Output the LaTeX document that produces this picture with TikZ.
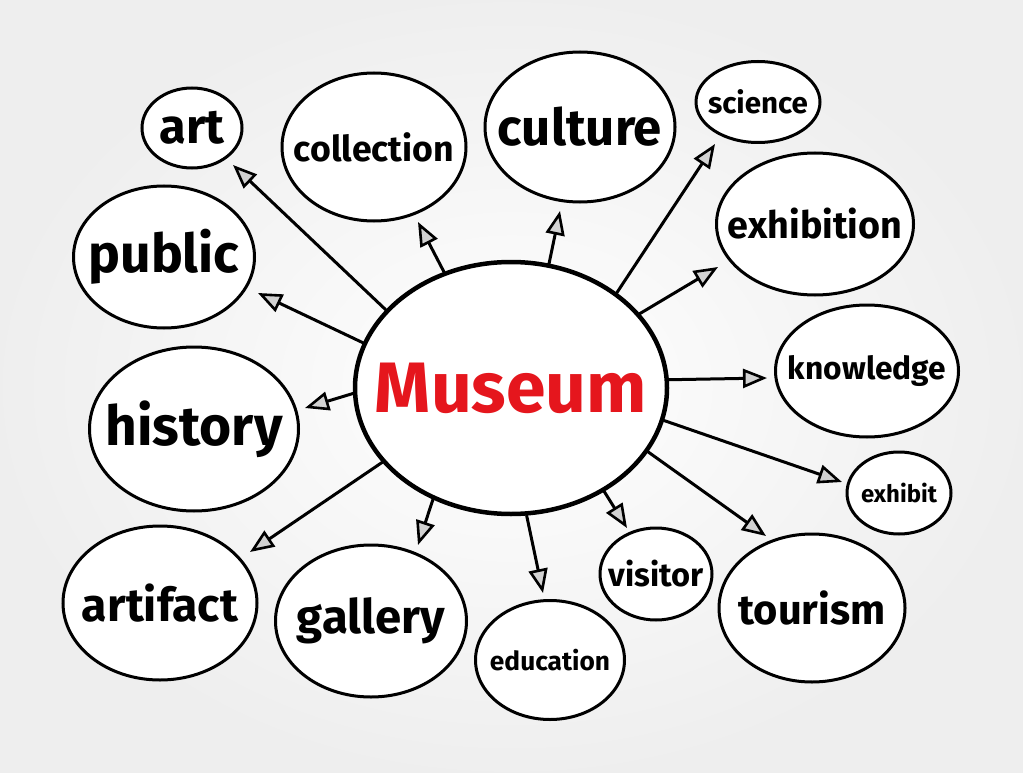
\documentclass[tikz,border=0pt]{standalone}
\usepackage{graphicx}
\usepackage{fontspec}
\setmainfont{Fira Sans}
\usetikzlibrary{shapes.geometric,arrows.meta}
\definecolor{musred}{HTML}{E5161D}
\tikzset{
  bub/.style={ellipse, draw=black, line width=3pt, fill=white, inner sep=0pt},
  arr/.style={line width=3pt, line cap=round,
    -{Triangle[length=24pt,width=19pt,fill=gray!35,line width=2.6pt]}},
}
\newcommand{\wtxt}[2]{\resizebox{#1pt}{!}{\bfseries #2}}
\begin{document}
\begin{tikzpicture}[x=1pt,y=-1pt]
\useasboundingbox (0,0) rectangle (1023,773);
\shade[inner color=white, outer color=gray!13] (0,0) rectangle (1023,773);

\node[bub, line width=4.5pt, minimum width=312pt, minimum height=252pt,
  label={[text=musred]center:\wtxt{272}{Museum}}] (M) at (511,388) {};

\node[bub, minimum width=100pt, minimum height=80pt, label={center:\wtxt{65}{art}}] (art) at (192,128) {};
\node[bub, minimum width=184pt, minimum height=148pt, label={center:\wtxt{160}{collection}}] (collection) at (374,147) {};
\node[bub, minimum width=190pt, minimum height=150pt, label={center:\wtxt{164}{culture}}] (culture) at (580,127) {};
\node[bub, minimum width=124pt, minimum height=81pt, label={center:\wtxt{100}{science}}] (science) at (758,102) {};
\node[bub, minimum width=197pt, minimum height=142pt, label={center:\wtxt{174}{exhibition}}] (exhibition) at (815,224) {};
\node[bub, minimum width=181pt, minimum height=142pt, label={center:\wtxt{151}{public}}] (public) at (164,257) {};
\node[bub, minimum width=183pt, minimum height=132pt, label={center:\wtxt{158}{knowledge}}] (knowledge) at (867,371) {};
\node[bub, minimum width=209pt, minimum height=164pt, label={center:\wtxt{177}{history}}] (history) at (194,429) {};
\node[bub, minimum width=104pt, minimum height=82pt, label={center:\wtxt{76}{exhibit}}] (exhibit) at (899,493) {};
\node[bub, minimum width=194pt, minimum height=154pt, label={center:\wtxt{156}{artifact}}] (artifact) at (160,603) {};
\node[bub, minimum width=191pt, minimum height=152pt, label={center:\wtxt{148}{gallery}}] (gallery) at (371,621) {};
\node[bub, minimum width=149pt, minimum height=119pt, label={center:\wtxt{120}{education}}] (education) at (550,660) {};
\node[bub, minimum width=112pt, minimum height=92pt, label={center:\wtxt{95}{visitor}}] (visitor) at (656,574) {};
\node[bub, minimum width=186pt, minimum height=148pt, label={center:\wtxt{147}{tourism}}] (tourism) at (812,608) {};

\coordinate (tArt) at (233,165);
\coordinate (tCollection) at (418,222);
\coordinate (tCulture) at (560,211);
\coordinate (tScience) at (715,144);
\coordinate (tExhibition) at (718,267);
\coordinate (tPublic) at (258,293);
\coordinate (tKnowledge) at (767,378);
\coordinate (tHistory) at (305,408);
\coordinate (tExhibit) at (842,482);
\coordinate (tArtifact) at (250,552);
\coordinate (tGallery) at (418,545);
\coordinate (tEducation) at (543,593);
\coordinate (tVisitor) at (627,528);
\coordinate (tTourism) at (766,536);

\draw[arr] (M.148) -- (tArt);
\draw[arr] (M.120.7) -- (tCollection);
\draw[arr] (M.73.6) -- (tCulture);
\draw[arr] (M.42.6) -- (tScience);
\draw[arr] (M.30.2) -- (tExhibition);
\draw[arr] (M.163.2) -- (tPublic);
\draw[arr] (M.3.6) -- (tKnowledge);
\draw[arr] (M.182.5) -- (tHistory);
\draw[arr] (M.-12.7) -- (tExhibit);
\draw[arr] (M.210.8) -- (tArtifact);
\draw[arr] (M.235.8) -- (tGallery);
\draw[arr] (M.277.6) -- (tEducation);
\draw[arr] (M.-48.6) -- (tVisitor);
\draw[arr] (M.-25.2) -- (tTourism);
\end{tikzpicture}
\end{document}
